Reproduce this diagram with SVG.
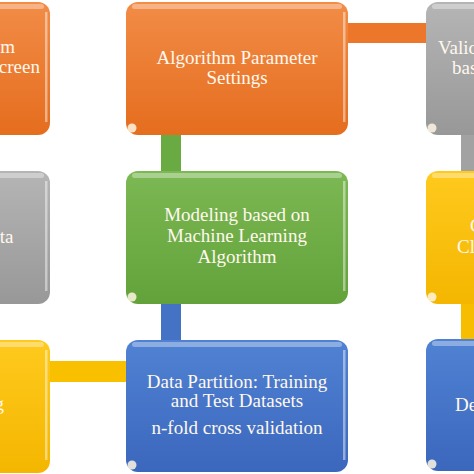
<svg xmlns="http://www.w3.org/2000/svg" width="474" height="474" viewBox="0 0 474 474">
<style>
.t{font-family:"Liberation Serif","Times New Roman",serif;font-size:19px;fill:#FFF8EE}
.c{text-anchor:middle}
.e{text-anchor:end}
.hl{fill:#FFFFFF;opacity:0.35}
.rs{fill:#FFFFFF;opacity:0.45}
.bub{fill:#FFF6E0;opacity:0.85}
</style>
<defs>
<linearGradient id="gOr" x1="0" y1="0" x2="0" y2="1"><stop offset="0" stop-color="#F28C47"/><stop offset="1" stop-color="#E56D1E"/></linearGradient>
<linearGradient id="gGn" x1="0" y1="0" x2="0" y2="1"><stop offset="0" stop-color="#7CB853"/><stop offset="1" stop-color="#63A23B"/></linearGradient>
<linearGradient id="gBl" x1="0" y1="0" x2="0" y2="1"><stop offset="0" stop-color="#5082D3"/><stop offset="1" stop-color="#3B67BD"/></linearGradient>
<linearGradient id="gGy" x1="0" y1="0" x2="0" y2="1"><stop offset="0" stop-color="#B5B5B5"/><stop offset="1" stop-color="#989898"/></linearGradient>
<linearGradient id="gYl" x1="0" y1="0" x2="0" y2="1"><stop offset="0" stop-color="#FFCA1E"/><stop offset="1" stop-color="#F4B600"/></linearGradient>
</defs>
<rect width="474" height="474" fill="#FFFFFF"/>
<g id="connectors">
<rect x="346" y="23" width="82" height="20" fill="#EC772A"/>
<rect x="161" y="133" width="20" height="40" fill="#6AAA42"/>
<rect x="161" y="302" width="20" height="40" fill="#4472C4"/>
<rect x="461" y="133" width="20" height="40" fill="#A2A2A2"/>
<rect x="461" y="302" width="20" height="40" fill="#F7BD00"/>
<rect x="48" y="361" width="80" height="21" fill="#F9C000"/>
</g>
<g id="node-tl">
<rect x="-172" y="2" width="222" height="133" rx="12" fill="url(#gOr)"/>
<rect x="-166" y="4" width="210" height="5" rx="2.5" class="hl"/>
<rect x="45" y="12" width="2.5" height="110" class="rs"/>
<text class="t e" x="15" y="53">m</text>
<text class="t e" x="40" y="73">creen</text>
</g>
<g id="node-algo">
<rect x="126" y="2" width="222" height="133" rx="12" fill="url(#gOr)"/>
<rect x="132" y="4" width="210" height="5" rx="2.5" class="hl"/>
<rect x="343" y="12" width="2.5" height="110" class="rs"/>
<circle cx="132" cy="128" r="4.5" class="bub"/>
<text class="t c" x="237" y="64">Algorithm Parameter</text>
<text class="t c" x="237" y="84">Settings</text>
</g>
<g id="node-tr">
<rect x="426" y="2" width="222" height="133" rx="12" fill="url(#gGy)"/>
<rect x="432" y="4" width="210" height="5" rx="2.5" class="hl"/>
<circle cx="432" cy="128" r="4.5" class="bub"/>
<text class="t" x="438" y="54">Valid</text>
<text class="t" x="452" y="74">bas</text>
</g>
<g id="node-ml">
<rect x="-172" y="171" width="222" height="133" rx="12" fill="url(#gGy)"/>
<rect x="-166" y="173" width="210" height="5" rx="2.5" class="hl"/>
<rect x="45" y="181" width="2.5" height="110" class="rs"/>
<text class="t e" x="13.5" y="243">ta</text>
</g>
<g id="node-model">
<rect x="126" y="171" width="222" height="133" rx="12" fill="url(#gGn)"/>
<rect x="132" y="173" width="210" height="5" rx="2.5" class="hl"/>
<rect x="343" y="181" width="2.5" height="110" class="rs"/>
<circle cx="132" cy="297" r="4.5" class="bub"/>
<text class="t c" x="237" y="221">Modeling based on</text>
<text class="t c" x="237" y="242">Machine Learning</text>
<text class="t c" x="237" y="263">Algorithm</text>
</g>
<g id="node-mr">
<rect x="426" y="171" width="222" height="133" rx="12" fill="url(#gYl)"/>
<rect x="432" y="173" width="210" height="5" rx="2.5" class="hl"/>
<circle cx="432" cy="297" r="4.5" class="bub"/>
<text class="t" x="470" y="232">C</text>
<text class="t" x="457" y="253">Cl</text>
</g>
<g id="node-bl">
<rect x="-172" y="340" width="222" height="133" rx="12" fill="url(#gYl)"/>
<rect x="-166" y="342" width="210" height="5" rx="2.5" class="hl"/>
<rect x="45" y="350" width="2.5" height="110" class="rs"/>
<text class="t e" x="4" y="410">g</text>
</g>
<g id="node-partition">
<rect x="126" y="340" width="222" height="132" rx="12" fill="url(#gBl)"/>
<rect x="132" y="342" width="210" height="5" rx="2.5" class="hl"/>
<rect x="343" y="350" width="2.5" height="110" class="rs"/>
<circle cx="132" cy="465" r="4.5" class="bub"/>
<text class="t c" x="237" y="388">Data Partition: Training</text>
<text class="t c" x="237" y="407">and Test Datasets</text>
<text class="t c" x="237" y="434">n-fold cross validation</text>
</g>
<g id="node-br">
<rect x="426" y="339" width="222" height="132" rx="12" fill="url(#gBl)"/>
<rect x="432" y="341" width="210" height="5" rx="2.5" class="hl"/>
<circle cx="432" cy="464" r="4.5" class="bub"/>
<text class="t" x="455" y="411">De</text>
</g>
</svg>
